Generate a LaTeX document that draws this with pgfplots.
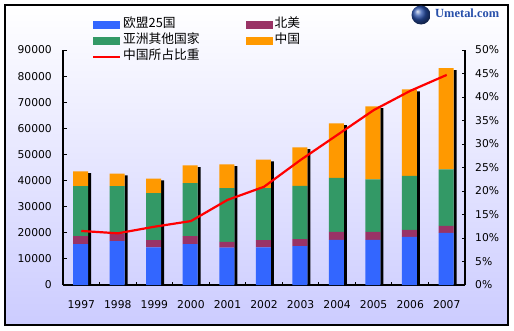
\documentclass[border=0pt]{standalone}
\usepackage{pgfplots}
\usepackage{pgfplotstable}
\pgfplotsset{compat=1.18}
\usepackage{fontspec}
\setmainfont{DejaVu Sans}
\newfontfamily\cjk{Noto Sans CJK SC}
\newfontfamily\logofont{Liberation Serif}
\definecolor{cBlue}{RGB}{51,102,255}
\definecolor{cMaroon}{RGB}{153,51,102}
\definecolor{cGreen}{RGB}{51,153,102}
\definecolor{cOrange}{RGB}{255,153,0}
\definecolor{cLav}{RGB}{204,204,255}
\definecolor{cLogo}{RGB}{40,80,170}

\pgfplotstableread{
x blue  maroon green orange shadow
0 15670 3050 19110 5730  42860
1 16810 2680 18340 4850  41980
2 14400 2800 17950 5620  40070
3 15670 3050 20260 6870  45150
4 14270 2280 20520 9170  45540
5 14400 2800 19870 10930 47300
6 14900 2680 20370 14780 52030
7 17310 3060 20630 20900 61200
8 17310 3060 20130 27900 67700
9 18460 2670 20640 33130 74200
10 19980 2680 21670 38700 82330
}\bars

\pgfplotstableread{
x share
0 11.5
1 11.0
2 12.4
3 13.6
4 18.1
5 20.9
6 26.6
7 31.9
8 37.2
9 41.3
10 44.7
}\share

\pgfplotsset{
  base/.style={scale only axis, width=402bp, height=235bp, at={(63bp,45bp)}, anchor=south west,
    xmin=-0.5, xmax=10.5},
  swatch/.style={fill=#1, draw=none,
    legend image code/.code={\fill[##1] (0bp,-3.9bp) rectangle (27bp,3.9bp);}},
  lineleg/.style={legend image code/.code={\draw[##1] (0bp,0bp) -- (27bp,0bp);}},
}

\begin{document}
\begin{tikzpicture}[x=1bp,y=1bp]
\fill[white] (0,0) rectangle (514,330);
\shade[top color=white, bottom color=cLav] (5,5) rectangle (508,325);
\draw[line width=1.3bp] (5,5) rectangle (508,325);

% shadows
\begin{axis}[base, hide axis, ymin=0, ymax=90000, ybar, bar width=3bp, bar shift=8.3bp]
\addplot[fill=black, draw=none] table[x=x, y=shadow] {\bars};
\end{axis}

% stacked bars
\begin{axis}[base, ymin=0, ymax=90000, ybar stacked, bar width=15bp, bar shift=-0.7bp,
  axis x line*=bottom, axis y line*=left,
  axis line style={black, line width=1.2bp},
  ytick={0,10000,...,90000},
  xtick={0,...,10},
  xticklabels={1997,1998,1999,2000,2001,2002,2003,2004,2005,2006,2007},
  minor xtick={0.5,1.5,...,9.5},
  major x tick style={draw=none},
  tick align=inside, major tick length=3.5bp, minor tick length=3.5bp,
  tick style={black, line width=0.9bp},
  scaled y ticks=false,
  /pgf/number format/.cd, 1000 sep={}, assume math mode=true, /pgfplots/.cd,
  tick label style={font=\fontsize{10.8}{12}\selectfont, inner sep=0pt},
  yticklabel style={xshift=-11bp},
  xticklabel style={yshift=-15.5bp},
  legend style={at={(0.0721,1.139)}, anchor=north west, draw=none, fill=none,
    inner sep=0pt, outer sep=0pt, row sep=0pt,
    font=\cjk\fontsize{12.8}{14}\selectfont,
    cells={anchor=west},
    nodes={inner sep=2bp, text height=8.5bp, text depth=3.5bp},
    /tikz/every even column/.append style={column sep=44bp}},
  legend columns=2,
]
\addplot[swatch=cBlue] table[x=x, y=blue] {\bars};
\addlegendentry{欧盟25国}
\addplot[swatch=cMaroon] table[x=x, y=maroon] {\bars};
\addlegendentry{北美}
\addplot[swatch=cGreen] table[x=x, y=green] {\bars};
\addlegendentry{亚洲其他国家}
\addplot[swatch=cOrange] table[x=x, y=orange] {\bars};
\addlegendentry{中国}
\addlegendimage{red, line width=2.2bp, lineleg}
\addlegendentry{中国所占比重}
\end{axis}

% right axis + share line
\begin{axis}[base, ymin=0, ymax=50,
  axis y line*=right, axis x line=none,
  axis line style={black, line width=1.2bp},
  ytick={0,5,...,50},
  yticklabel={\pgfmathprintnumber{\tick}\%},
  tick align=inside, major tick length=3.5bp,
  tick style={black, line width=0.9bp},
  /pgf/number format/.cd, assume math mode=true, /pgfplots/.cd,
  tick label style={font=\fontsize{10.8}{12}\selectfont, inner sep=0pt},
  yticklabel style={xshift=10bp},
]
\addplot[red, line width=2.2bp, mark=none] table[x=x, y=share] {\share};
\end{axis}

% logo
\shade[ball color=cLogo] (421,315) circle (9.5);
\node[anchor=west, text=cLogo, inner sep=0pt, font=\logofont\bfseries\fontsize{12.5}{14}\selectfont] at (435,317) {Umetal.com};
\end{tikzpicture}
\end{document}
